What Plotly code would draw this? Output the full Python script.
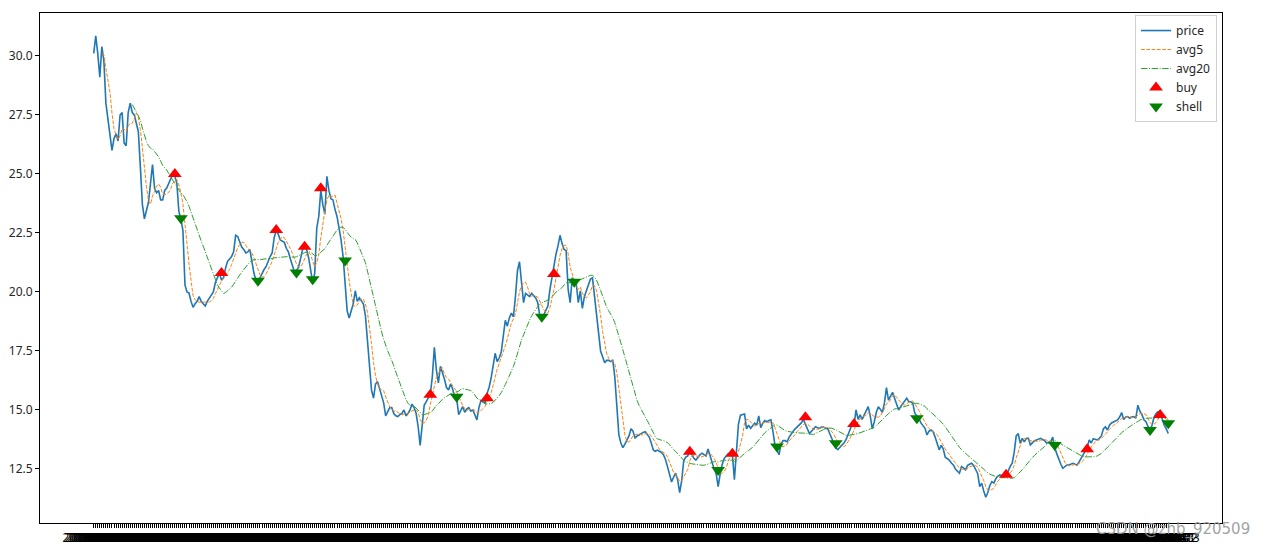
import pandas as pd
import plotly.graph_objects as go

price = [
    30.11, 30.85, 30.1, 29.1, 30.4, 29.8, 28.0, 27.4, 26.7, 26.0,
    26.5, 26.7, 26.4, 27.5, 27.6, 26.3, 26.2, 27.6, 28.0, 27.6,
    27.5, 27.2, 26.8, 25.3, 23.7, 23.1, 23.4, 23.8, 24.6, 25.4,
    24.4, 24.2, 24.3, 23.9, 23.9, 24.3, 24.4, 24.6, 24.75, 25.0,
    24.9, 24.6, 23.4, 23.1, 22.6, 20.3, 20.0, 19.95, 19.6, 19.35,
    19.5, 19.6, 19.8, 19.6, 19.5, 19.4, 19.6, 19.75, 19.9, 20.0,
    20.4, 20.6, 20.8, 20.5, 20.6, 21.0, 21.3, 21.4, 21.5, 21.7,
    22.4, 22.35, 22.1, 21.9, 21.8, 21.65, 21.7, 21.8, 21.3, 20.8,
    20.5, 20.4, 20.6, 20.8, 20.95, 21.07, 21.3, 21.5, 21.65, 22.3,
    22.6, 22.45, 22.2, 22.15, 22.1, 21.85, 21.7, 21.4, 21.1, 20.85,
    20.9, 21.05, 21.4, 21.8, 21.95, 21.8, 21.45, 20.9, 20.4, 20.8,
    22.7, 23.2, 24.3, 23.7, 23.3, 24.9, 24.3, 23.95, 23.9, 23.5,
    23.2, 22.7, 22.2, 21.5, 20.4, 19.2, 18.9, 19.2, 19.5, 20.05,
    19.6, 19.75, 19.6, 19.5, 19.0, 17.9, 16.85, 15.85, 15.5, 16.1,
    16.2, 15.9, 15.6, 15.3, 14.75, 14.95, 15.1, 15.1, 14.85, 14.75,
    14.72, 14.8, 14.85, 15.0, 14.75, 14.85, 15.0, 15.25, 15.1, 14.86,
    14.3, 13.5, 14.4, 15.2, 15.35, 15.5, 15.65, 16.4, 17.65, 16.7,
    16.15, 16.85, 16.6, 16.3, 15.95, 15.85, 16.1, 15.9, 15.55, 15.5,
    14.8, 14.95, 15.14, 14.9, 15.05, 15.1, 14.95, 15.0, 14.8, 14.58,
    15.1, 15.4, 15.35, 15.3, 15.7, 15.95, 16.35, 16.9, 17.4, 17.05,
    17.2, 17.45, 18.1, 18.8, 18.55, 18.9, 19.1, 18.95, 19.8, 20.9,
    21.28, 20.4, 19.55, 19.94, 19.85, 19.8, 19.94, 19.85, 19.75, 19.55,
    19.0, 18.85, 19.05, 19.25, 19.4, 20.1, 20.6, 21.2, 21.6, 21.95,
    22.4, 22.05, 21.8, 21.75, 20.1, 19.55, 20.6, 20.5, 20.35, 19.55,
    20.05, 19.3, 19.8, 20.05, 20.35, 20.55, 20.6, 19.8, 19.0, 18.1,
    17.5, 17.25, 17.0, 17.1, 17.1, 17.05, 17.12, 16.4, 15.2, 13.95,
    13.6, 13.4, 13.55, 13.75, 13.9, 14.2, 14.1, 13.8, 13.9, 13.94,
    14.0, 14.05, 14.08, 13.95, 13.85, 13.6, 13.3, 13.25, 13.3, 13.25,
    13.2, 13.1, 12.9, 12.6, 12.2, 11.95, 12.15, 12.32, 12.05, 11.5,
    12.0, 12.85, 13.0, 13.05, 13.3, 13.1, 12.95, 12.88, 13.0, 13.1,
    13.17, 13.1, 13.05, 13.35, 13.05, 12.8, 12.5, 12.3, 11.75, 12.3,
    12.7, 12.95, 13.05, 13.15, 13.15, 13.1, 12.05, 13.45, 14.4, 14.78,
    14.8, 14.83, 14.2, 14.36, 14.22, 14.35, 14.44, 14.36, 14.75, 14.25,
    14.44, 14.55, 14.5, 14.55, 14.58, 14.1, 13.5, 13.3, 13.1, 13.55,
    13.7, 13.7, 13.65, 13.85, 14.0, 14.1, 14.2, 14.29, 14.36, 14.45,
    14.6, 14.4, 14.2, 14.0, 14.1, 14.2, 14.29, 14.25, 14.22, 14.28,
    14.28, 14.22, 14.22, 14.0, 13.8, 13.6, 13.4, 13.32, 13.4, 13.5,
    13.6, 13.73, 13.95, 14.2, 14.38, 14.36, 15.0, 14.6, 14.79, 14.6,
    14.8, 15.0, 15.14, 14.75, 14.2, 14.5, 14.9, 15.14, 15.0, 14.9,
    15.3, 15.95, 15.42, 15.6, 15.75, 15.5, 15.28, 15.0, 15.14, 15.25,
    15.4, 15.5, 15.35, 15.35, 15.28, 14.85, 14.75, 14.65, 14.45, 14.35,
    14.22, 13.94, 14.1, 14.15, 14.08, 13.85, 13.6, 13.31, 13.5, 13.35,
    13.0, 12.92, 12.88, 12.75, 12.67, 12.5, 12.4, 12.32, 12.6, 12.55,
    12.46, 12.65, 12.7, 12.74, 12.65, 12.5, 12.3, 11.75, 11.9, 11.55,
    11.3, 11.5, 11.8, 11.96, 11.9, 12.1, 12.2, 12.25, 12.2, 12.17,
    12.3, 12.4, 12.6, 12.74, 13.2, 13.9, 14.0, 13.59, 13.8, 13.65,
    13.8, 13.8, 13.52, 13.6, 13.7, 13.73, 13.75, 13.8, 13.75, 13.7,
    13.6, 13.62, 13.66, 13.85, 13.4, 13.15, 12.9, 12.7, 12.53, 12.6,
    12.67, 12.67, 12.7, 12.74, 12.7, 12.67, 12.8, 12.95, 13.15, 13.3,
    13.4, 13.73, 13.6, 13.78, 13.75, 13.73, 13.8, 13.9, 14.2, 14.29,
    14.15, 14.35, 14.45, 14.5, 14.55, 14.58, 14.7, 14.89, 14.6, 14.7,
    14.72, 14.65, 14.7, 14.72, 14.65, 15.2, 14.95, 14.8, 14.58, 14.5,
    14.3, 14.15, 14.35, 14.7, 14.85, 14.93, 14.9, 14.6, 14.35, 14.2,
    14.0,
]

buy_idx = [40, 63, 90, 104, 112, 166, 194, 227, 294, 315, 351, 375, 450, 490, 526]
buy_val = [25.0, 20.8, 22.63, 21.92, 24.39, 15.64, 15.5, 20.76, 13.23, 13.14,
           14.69, 14.41, 12.25, 13.33, 14.79]

shell_idx = [43, 81, 100, 108, 124, 179, 221, 237, 308, 337, 366, 406, 474, 521, 530]
shell_val = [23.12, 20.48, 20.82, 20.54, 21.33, 15.56, 18.95, 20.43, 12.46, 13.45,
             13.59, 14.65, 13.52, 14.15, 14.44]

y_ticks = [12.5, 15.0, 17.5, 20.0, 22.5, 25.0, 27.5, 30.0]

dates = list(pd.bdate_range("2019-01-02", periods=len(price)).strftime("%Y-%m-%d"))

s = pd.Series(price)
avg5 = s.rolling(5).mean()
avg20 = s.rolling(20).mean()

n = len(price)
fig = go.Figure()
fig.add_trace(go.Scatter(x=dates, y=price, mode="lines", name="price",
                         line=dict(color="#1f77b4", width=1.6)))
fig.add_trace(go.Scatter(x=dates, y=avg5, mode="lines", name="avg5",
                         line=dict(color="#ff7f0e", width=1, dash="3.7px,1.6px")))
fig.add_trace(go.Scatter(x=dates, y=avg20, mode="lines", name="avg20",
                         line=dict(color="#2ca02c", width=1, dash="6.4px,1.6px,1px,1.6px")))
fig.add_trace(go.Scatter(x=[dates[i] for i in buy_idx], y=buy_val, mode="markers", name="buy",
                         marker=dict(symbol="triangle-up", size=12, color="#ff0000",
                                     line=dict(width=0))))
fig.add_trace(go.Scatter(x=[dates[i] for i in shell_idx], y=shell_val, mode="markers", name="shell",
                         marker=dict(symbol="triangle-down", size=12, color="#008000",
                                     line=dict(width=0))))

font_family = "Noto Sans, DejaVu Sans, sans-serif"
# page body has an 8px margin, so the figure is 8px smaller than the window
fig.update_layout(
    width=1259, height=539,
    margin=dict(l=32, r=45, t=5, b=24, autoexpand=False),
    paper_bgcolor="white", plot_bgcolor="white",
    font=dict(family=font_family, size=12, color="#262626"),
    showlegend=True,
    legend=dict(x=0.9958, y=0.996, xanchor="right", yanchor="top",
                bgcolor="rgba(255,255,255,0.8)", bordercolor="#d0d0d0", borderwidth=1,
                font=dict(size=12, color="#262626"), itemwidth=30, tracegroupgap=0),
)
fig.update_xaxes(
    type="category", range=[-0.05 * (n - 1), 1.05 * (n - 1)],
    tickmode="array", tickvals=dates, ticktext=dates, tickangle=0,
    ticks="outside", ticklen=4, tickwidth=0.8, tickcolor="#000000",
    showline=True, linecolor="#000000", linewidth=1, mirror=True,
    showgrid=False, zeroline=False, automargin=False,
    tickfont=dict(size=12, color="#000000"),
)
fig.update_yaxes(
    range=[10.21, 31.82], tickmode="array", tickvals=y_ticks,
    ticktext=[f"{v:.1f}" for v in y_ticks],
    ticks="outside", ticklen=4, tickwidth=0.8, tickcolor="#000000",
    showline=True, linecolor="#000000", linewidth=1, mirror=True,
    showgrid=False, zeroline=False, automargin=False,
    tickfont=dict(size=12, color="#262626"),
)
fig.add_annotation(
    text="CSDN @zhb_920509", xref="paper", yref="paper",
    x=1.0254, y=-0.012, xanchor="right", yanchor="middle", showarrow=False,
    font=dict(family="DejaVu Sans, sans-serif", size=15, color="rgba(150,150,150,0.9)"),
)
fig.write_html("out.html")
